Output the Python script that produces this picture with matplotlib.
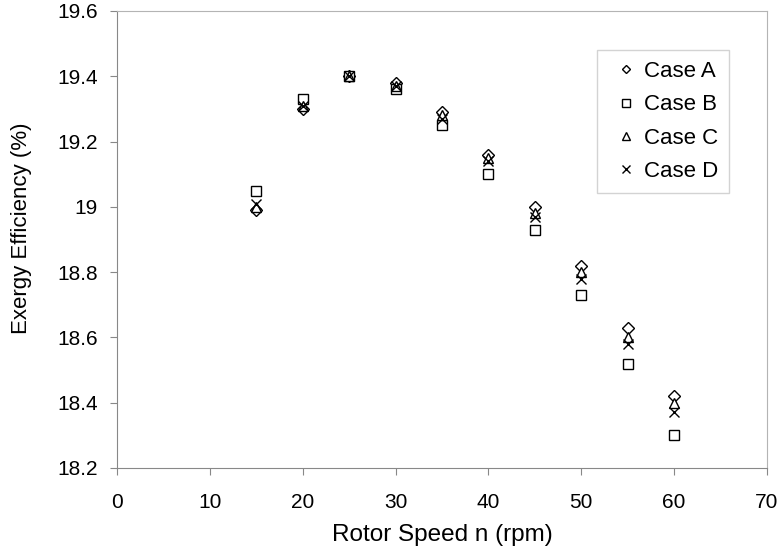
import matplotlib.pyplot as plt
import numpy as np

plt.rcParams['font.family'] = ['Liberation Sans', 'DejaVu Sans']

speed = [15, 20, 25, 30, 35, 40, 45, 50, 55, 60]
case_a = [18.99, 19.30, 19.40, 19.38, 19.29, 19.16, 19.00, 18.82, 18.63, 18.42]
case_b = [19.05, 19.33, 19.40, 19.36, 19.25, 19.10, 18.93, 18.73, 18.52, 18.30]
case_c = [19.00, 19.31, 19.40, 19.37, 19.28, 19.15, 18.98, 18.80, 18.60, 18.40]
case_d = [19.01, 19.31, 19.40, 19.37, 19.27, 19.14, 18.97, 18.78, 18.58, 18.37]

fig = plt.figure(figsize=(7.84, 5.48), dpi=100)
ax = fig.add_axes([0.1492, 0.146, 0.8291, 0.834])

ax.plot(speed, case_a, ls='none', marker='D', ms=6, mfc='white', mec='black', mew=1, label='Case A')
ax.plot(speed, case_b, ls='none', marker='s', ms=7, mfc='white', mec='black', mew=1, label='Case B')
ax.plot(speed, case_c, ls='none', marker='^', ms=7, mfc='white', mec='black', mew=1, label='Case C')
ax.plot(speed, case_d, ls='none', marker='x', ms=7, color='black', mew=1, label='Case D')

ax.set_xlim(0, 70)
ax.set_ylim(18.2, 19.6)
ax.set_xticks(np.arange(0, 71, 10))
ax.set_yticks([18.2, 18.4, 18.6, 18.8, 19.0, 19.2, 19.4, 19.6])
ax.set_yticklabels(['18.2', '18.4', '18.6', '18.8', '19', '19.2', '19.4', '19.6'])
for side in ['left', 'bottom']:
    ax.spines[side].set_color('#888888')
for side in ['top', 'right']:
    ax.spines[side].set_color('#b4b4b4')
ax.tick_params(labelsize=15, direction='out', length=5, color='#888888')
ax.tick_params(axis='x', pad=13)
ax.tick_params(axis='y', pad=9)

ax.set_xlabel('Rotor Speed n (rpm)', fontsize=17.5, labelpad=9)
ax.set_ylabel('Exergy Efficiency (%)', fontsize=16)
ax.yaxis.set_label_coords(-0.13, 0.525)

leg = ax.legend(loc='upper right', bbox_to_anchor=(0.9415, 0.9147), fontsize=16,
                markerscale=0.75, frameon=True, fancybox=False, labelspacing=0.55,
                handlelength=1.6, handletextpad=0.0, borderpad=0.5, borderaxespad=0)
leg.get_frame().set_edgecolor('#c8c8c8')
leg.get_frame().set_linewidth(1)

fig.savefig('out.png', dpi=100)
